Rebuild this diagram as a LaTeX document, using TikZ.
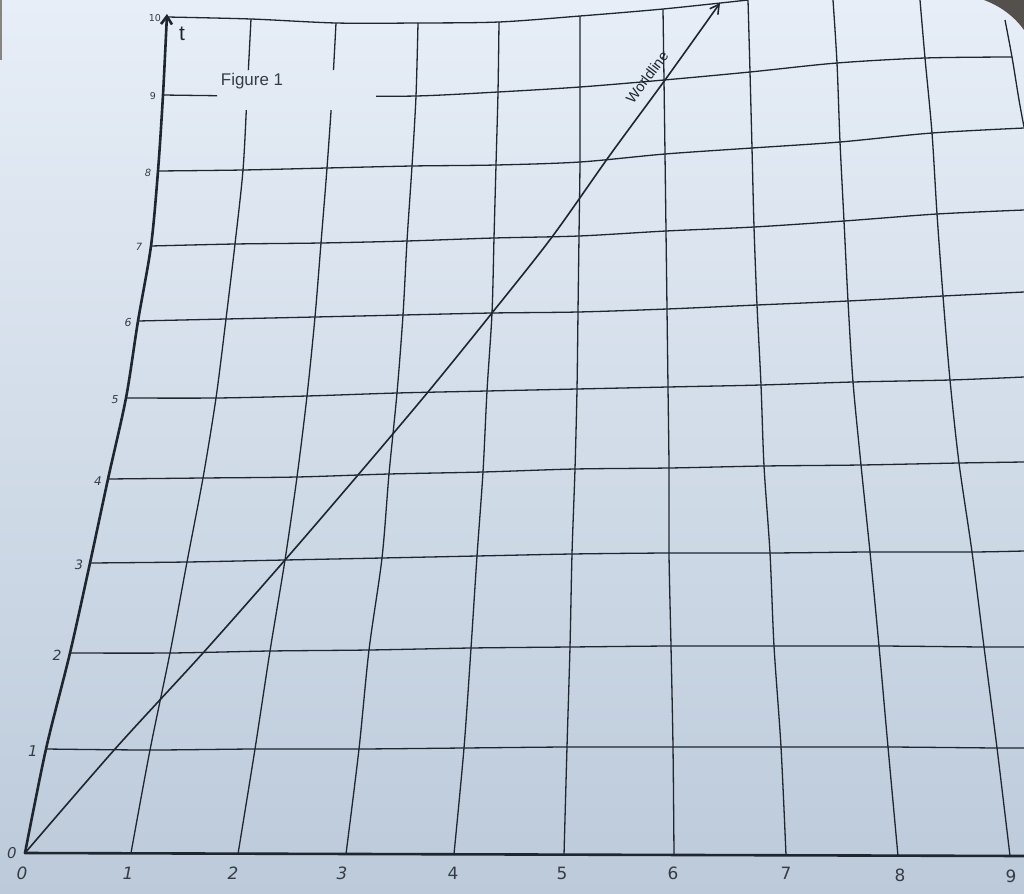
\documentclass[tikz,border=0pt]{standalone}
\usepackage{fontspec}
\setmainfont{Liberation Sans}
\newfontfamily\dejavu{DejaVu Sans}
\usepackage{tikz}
\usepackage{xcolor}
\usetikzlibrary{arrows.meta}

\definecolor{paperTop}{RGB}{231,238,247}
\definecolor{paperMid}{RGB}{221,231,243}
\definecolor{paperBot}{RGB}{188,202,218}
\definecolor{ink}{RGB}{30,38,48}
\definecolor{tabletop}{RGB}{84,80,76}

\begin{document}
\begin{tikzpicture}[x=1bp, y=-1bp,
        gridline/.style={draw=ink, line width=1.3bp},
        axisline/.style={draw=ink, line width=2.6bp, line cap=round},
        ticklab/.style={inner sep=0pt, text=ink!90, font=\dejavu\fontsize{#1}{#1}\selectfont},
        tickit/.style={inner sep=0pt, text=ink!90, font=\dejavu\itshape\fontsize{#1}{#1}\selectfont}]
    \useasboundingbox (0,0) rectangle (1024,894);
    \shade[top color=paperTop, middle color=paperMid, bottom color=paperBot] (0,0) rectangle (1024,894);
    \fill[tabletop] (984,0) .. controls (1000,6) and (1014,16) .. (1024,30) -- (1024,0) -- cycle;
    \fill[tabletop!70] (0,0) rectangle (2,60);

    \coordinate (O) at (25,853);
    \coordinate (ttip) at (167,14);
    \coordinate (xend) at (1024,856);
    \coordinate (tip) at (720,3);

    \begin{scope}
    % gap round the title
    \clip (0,0) -- (1024,0) -- (1024,894) -- (0,894) -- cycle
          (217,70) -- (217,110) -- (376,110) -- (376,70) -- cycle;
    % lines of constant t
    \draw[gridline] plot[smooth] coordinates {(46,749) (150,750) (255,749) (359,749) (464,748) (567,747) (673,747) (781,747) (888,747) (997,748) (1024,748)};
    \draw[gridline] plot[smooth] coordinates {(70,653) (170,653) (270,651) (369,650) (471,648) (570,647) (671,646) (774,646) (879,646) (984,647) (1024,647)};
    \draw[gridline] plot[smooth] coordinates {(90,563) (187,562) (285,560) (382,558) (477,556) (572,554) (669,553) (770,553) (870,552) (972,552) (1024,551)};
    \draw[gridline] plot[smooth] coordinates {(108,479) (203,478) (297,477) (389,474) (483,472) (575,469) (669,468) (764,466) (861,465) (959,463) (1024,462)};
    \draw[gridline] plot[smooth] coordinates {(126,398) (216,398) (307,396) (397,393) (487,391) (577,389) (668,387) (761,385) (853,382) (950,380) (1024,377)};
    \draw[gridline] plot[smooth] coordinates {(138,321) (226,319) (315,317) (403,315) (492,313) (578,312) (667,309) (757,305) (848,301) (943,296) (1024,292)};
    \draw[gridline] plot[smooth] coordinates {(151,246) (235,244) (321,243) (407,241) (494,238) (579,236) (666,231) (754,227) (844,221) (937,214) (1024,210)};
    \draw[gridline] plot[smooth] coordinates {(158,171) (243,170) (327,168) (412,166) (496,165) (580,162) (665,154) (752,148) (840,142) (932,133) (1024,128)};
    \draw[gridline] plot[smooth] coordinates {(163,95) (247,96) (332,96) (416,96) (498,92) (580,87) (664,80) (750,72) (837,63) (925,58) (1012,57)};
    \draw[gridline] plot[smooth] coordinates {(167,17) (251,19) (336,23) (418,23) (499,22) (580,16) (663,9) (748,0)};

    % lines of constant x
    \draw[gridline] plot[smooth] coordinates {(131,853) (150,750) (170,653) (187,562) (203,478) (216,398) (226,319) (235,244) (243,170) (247,96) (251,19)};
    \draw[gridline] plot[smooth] coordinates {(238,854) (255,749) (270,651) (285,560) (297,477) (307,396) (315,317) (321,243) (327,168) (332,96) (336,23)};
    \draw[gridline] plot[smooth] coordinates {(346,854) (359,749) (369,650) (382,558) (389,474) (397,393) (403,315) (407,241) (412,166) (416,96) (418,23)};
    \draw[gridline] plot[smooth] coordinates {(454,854) (464,748) (471,648) (477,556) (483,472) (487,391) (492,313) (494,238) (496,165) (498,92) (499,22)};
    \draw[gridline] plot[smooth] coordinates {(564,855) (567,747) (570,647) (572,554) (575,469) (577,389) (578,312) (579,236) (580,162) (580,87) (580,16)};
    \draw[gridline] plot[smooth] coordinates {(674,855) (673,747) (671,646) (669,553) (669,468) (668,387) (667,309) (666,231) (665,154) (664,80) (663,9)};
    \draw[gridline] plot[smooth] coordinates {(786,855) (781,747) (774,646) (770,553) (764,466) (761,385) (757,305) (754,227) (752,148) (750,72) (748,0)};
    \draw[gridline] plot[smooth] coordinates {(898,856) (888,747) (879,646) (870,552) (861,465) (853,382) (848,301) (844,221) (840,142) (837,63) (833,0)};
    \draw[gridline] plot[smooth] coordinates {(1010,856) (997,748) (984,647) (972,552) (959,463) (950,380) (943,296) (937,214) (932,133) (925,58) (920,0)};
    \draw[gridline] plot[smooth] coordinates {(1005,20) (1012,57) (1019,100) (1024,127)};
    \end{scope}

    \node[font=\fontsize{17}{20}\selectfont, text=ink!90] (fig) at (252,81) {Figure 1};

    % axes
    \draw[axisline] (O) -- (xend);
    \draw[axisline, -{Straight Barb[length=8bp, width=11bp]}] plot[smooth] coordinates {(O) (46,749) (70,653) (90,563) (108,479) (126,398) (138,321) (151,246) (158,171) (163,95) (ttip)};
    \node[font=\fontsize{21}{24}\selectfont, text=ink] (tlab) at (182,34) {t};

    % worldline
    \draw[ink, line width=1.6bp, -{Straight Barb[length=9bp, width=10bp]}] plot[smooth] coordinates {(O) (115,749) (203,653) (285,560) (358,475) (428,392) (492,313) (552,237) (610,155) (665,80) (tip)};
    \node[font=\fontsize{14.5}{17}\selectfont, text=ink, rotate=53] (wl) at (647,77) {Worldline};

    % labels on t
    \node[tickit=15] (t0) at (12,853) {0};
    \node[tickit=15] (t1) at (33,751) {1};
    \node[tickit=14] (t2) at (57,655) {2};
    \node[tickit=13] (t3) at (79,565) {3};
    \node[tickit=12] (t4) at (98,481) {4};
    \node[tickit=11] (t5) at (115,400) {5};
    \node[tickit=11] (t6) at (128,323) {6};
    \node[tickit=10] (t7) at (139,247) {7};
    \node[tickit=10] (t8) at (148,173) {8};
    \node[ticklab=9.5] (t9) at (153,96) {9};
    \node[ticklab=9.5] (t10) at (155,18) {10};

    % labels on x
    \node[tickit=17] (x0) at (22,873) {0};
    \node[tickit=17] (x1) at (128,873) {1};
    \node[tickit=17] (x2) at (233,873) {2};
    \node[tickit=17] (x3) at (342,873) {3};
    \node[ticklab=17] (x4) at (453,873) {4};
    \node[ticklab=17] (x5) at (562,873) {5};
    \node[ticklab=17] (x6) at (673,873) {6};
    \node[ticklab=17] (x7) at (786,873) {7};
    \node[ticklab=17] (x8) at (900,875) {8};
    \node[ticklab=17] (x9) at (1011,876) {9};
\end{tikzpicture}
\end{document}
